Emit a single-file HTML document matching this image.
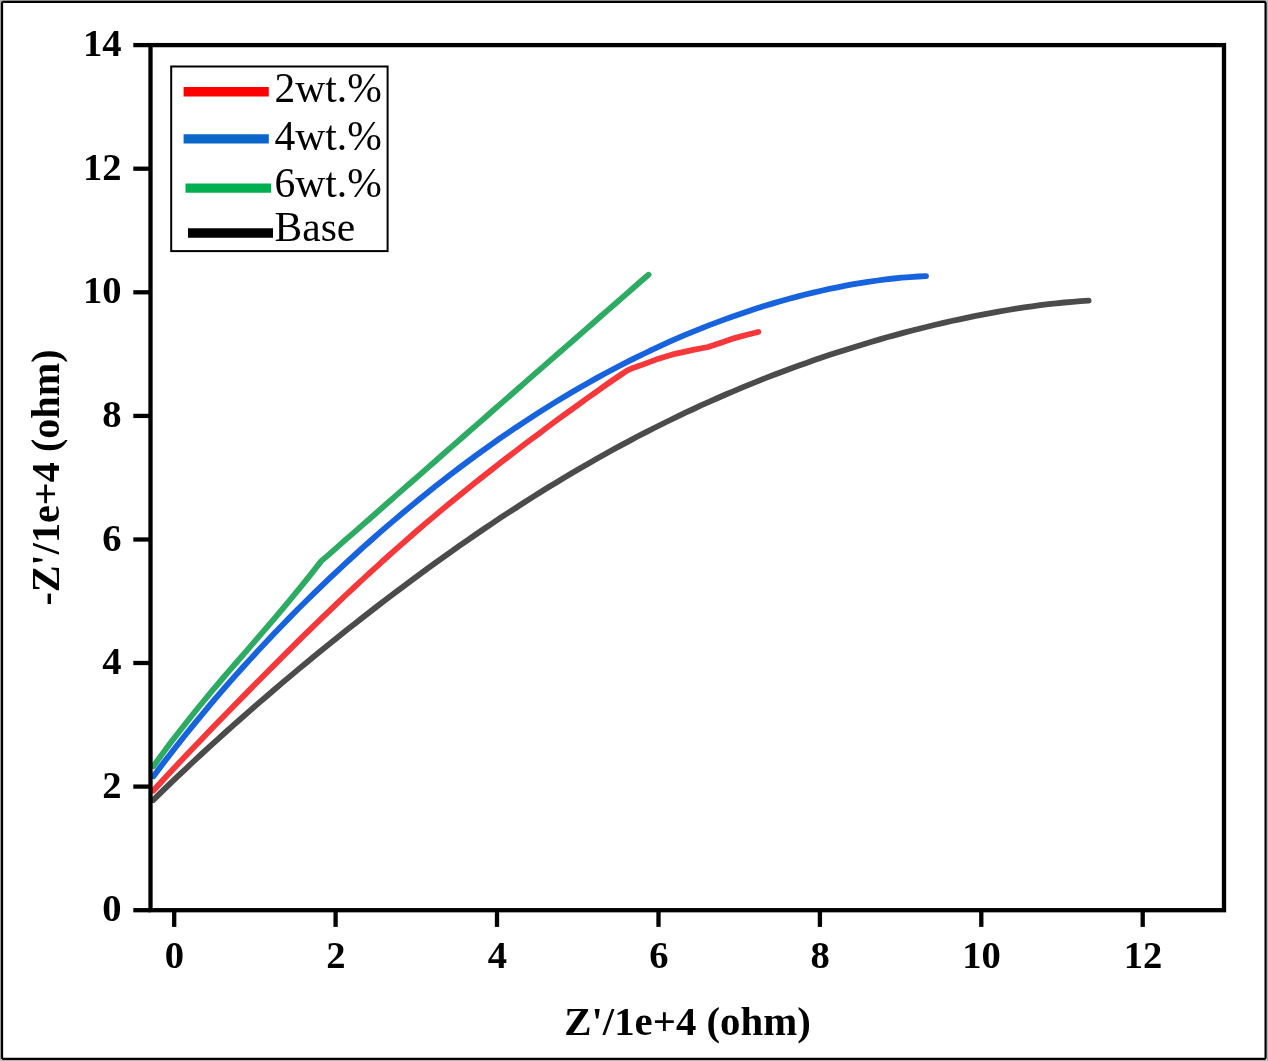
<!DOCTYPE html>
<html lang="en"><head><meta charset="utf-8"><title>Nyquist plot</title>
<style>html,body{margin:0;padding:0;background:#fff}svg{display:block}text{font-family:"Liberation Serif","Times New Roman",serif;fill:#000}.b{font-weight:bold}</style></head><body>
<svg width="1268" height="1061" viewBox="0 0 1268 1061">
<rect x="0" y="0" width="1268" height="1061" fill="#fff"/>
<rect x="0.5" y="0.5" width="1267" height="1060" fill="none" stroke="#b4b4b4" stroke-width="1"/>
<rect x="2.0" y="1.8" width="1263.6" height="1057.1" rx="1.2" fill="none" stroke="#000" stroke-width="2.25"/>
<path d="M153.2 800.1 L161.3 792.2 L169.3 784.4 L177.4 776.7 L185.5 769.1 L193.5 761.5 L201.6 754.0 L209.6 746.6 L217.7 739.3 L225.8 732.0 L233.8 724.8 L241.9 717.7 L250.0 710.6 L258.0 703.6 L266.1 696.7 L274.2 689.8 L282.2 682.9 L290.3 676.1 L298.3 669.4 L306.4 662.7 L314.5 656.1 L322.5 649.5 L330.6 643.0 L338.7 636.5 L346.7 630.1 L354.8 623.7 L362.9 617.4 L370.9 611.1 L379.0 604.9 L387.0 598.8 L395.1 592.6 L403.2 586.6 L411.2 580.6 L419.3 574.6 L427.4 568.7 L435.4 562.9 L443.5 557.1 L451.6 551.4 L459.6 545.7 L467.7 540.1 L475.8 534.5 L483.8 529.0 L491.9 523.6 L499.9 518.2 L508.0 512.9 L516.1 507.7 L524.1 502.5 L532.2 497.4 L540.3 492.3 L548.3 487.3 L556.4 482.4 L564.5 477.6 L572.5 472.8 L580.6 468.0 L588.6 463.4 L596.7 458.8 L604.8 454.3 L612.8 449.8 L620.9 445.4 L629.0 441.1 L637.0 436.8 L645.1 432.6 L653.2 428.5 L661.2 424.5 L669.3 420.5 L677.3 416.6 L685.4 412.7 L693.5 409.0 L701.5 405.2 L709.6 401.6 L717.7 398.0 L725.7 394.5 L733.8 391.1 L741.9 387.7 L749.9 384.4 L758.0 381.1 L766.0 377.9 L774.1 374.8 L782.2 371.7 L790.2 368.7 L798.3 365.8 L806.4 362.9 L814.4 360.1 L822.5 357.3 L830.6 354.6 L838.6 352.0 L846.7 349.4 L854.7 346.9 L862.8 344.4 L870.9 342.0 L878.9 339.6 L887.0 337.3 L895.1 335.1 L903.1 332.9 L911.2 330.8 L919.3 328.7 L927.3 326.7 L935.4 324.8 L943.5 322.9 L951.5 321.0 L959.6 319.3 L967.6 317.6 L975.7 315.9 L983.8 314.3 L991.8 312.8 L999.9 311.4 L1008.0 310.0 L1016.0 308.7 L1024.1 307.4 L1032.2 306.3 L1040.2 305.2 L1048.3 304.2 L1056.3 303.3 L1064.4 302.5 L1072.5 301.8 L1080.5 301.1 L1088.6 300.6" fill="none" stroke="#4b4b4b" stroke-width="5.8" stroke-linecap="round" stroke-linejoin="round"/>
<path d="M153.4 766.2 L161.8 754.6 L170.2 743.3 L178.6 732.4 L187.0 721.7 L195.3 711.2 L203.7 701.0 L212.1 690.9 L220.5 681.0 L228.9 671.2 L237.3 661.5 L245.7 651.8 L254.1 642.1 L262.5 632.4 L270.9 622.7 L279.2 612.8 L287.6 602.9 L296.0 592.7 L304.4 582.4 L312.8 571.9 L321.2 561.1 L329.4 554.1 L337.6 546.9 L345.7 539.7 L353.9 532.6 L362.1 525.4 L370.3 518.2 L378.5 511.0 L386.7 503.8 L394.8 496.6 L403.0 489.4 L411.2 482.3 L419.4 475.1 L427.6 467.9 L435.8 460.7 L443.9 453.5 L452.1 446.4 L460.3 439.2 L468.5 432.0 L476.7 424.9 L484.9 417.7 L493.0 410.5 L501.2 403.4 L509.4 396.2 L517.6 389.0 L525.8 381.9 L533.9 374.7 L542.1 367.6 L550.3 360.4 L558.5 353.3 L566.7 346.1 L574.9 339.0 L583.0 331.8 L591.2 324.7 L599.4 317.5 L607.6 310.4 L615.8 303.3 L624.0 296.1 L632.1 289.0 L640.3 281.8 L648.5 274.7" fill="none" stroke="#2dab63" stroke-width="5.8" stroke-linecap="round" stroke-linejoin="round"/>
<path d="M153.5 776.3 L161.5 765.5 L169.6 755.0 L177.6 744.7 L185.7 734.5 L193.7 724.6 L201.8 714.8 L209.8 705.2 L217.9 695.7 L225.9 686.4 L234.0 677.2 L242.0 668.2 L250.1 659.4 L258.1 650.6 L266.2 642.0 L274.2 633.5 L282.2 625.2 L290.3 616.9 L298.3 608.8 L306.4 600.8 L314.4 592.9 L322.5 585.1 L330.5 577.4 L338.6 569.8 L346.6 562.4 L354.7 555.0 L362.7 547.7 L370.8 540.5 L378.8 533.4 L386.9 526.4 L394.9 519.6 L403.0 512.8 L411.0 506.1 L419.0 499.5 L427.1 493.0 L435.1 486.6 L443.2 480.2 L451.2 474.0 L459.3 467.9 L467.3 461.9 L475.4 455.9 L483.4 450.1 L491.5 444.4 L499.5 438.7 L507.6 433.2 L515.6 427.7 L523.7 422.4 L531.7 417.1 L539.8 411.9 L547.8 406.9 L555.8 401.9 L563.9 397.0 L571.9 392.2 L580.0 387.5 L588.0 382.9 L596.1 378.4 L604.1 374.0 L612.2 369.7 L620.2 365.5 L628.3 361.4 L636.3 357.4 L644.4 353.5 L652.4 349.6 L660.5 345.9 L668.5 342.2 L676.5 338.7 L684.6 335.2 L692.6 331.9 L700.7 328.6 L708.7 325.4 L716.8 322.4 L724.8 319.4 L732.9 316.5 L740.9 313.7 L749.0 310.9 L757.0 308.3 L765.1 305.8 L773.1 303.4 L781.2 301.0 L789.2 298.8 L797.2 296.6 L805.3 294.5 L813.3 292.6 L821.4 290.7 L829.4 288.9 L837.5 287.3 L845.5 285.7 L853.6 284.2 L861.6 282.9 L869.7 281.6 L877.7 280.5 L885.8 279.4 L893.8 278.5 L901.9 277.7 L909.9 277.1 L918.0 276.5 L926.0 276.1" fill="none" stroke="#1763de" stroke-width="5.8" stroke-linecap="round" stroke-linejoin="round"/>
<path d="M153.2 790.7 L161.2 782.0 L169.3 773.3 L177.3 764.7 L185.3 756.2 L193.4 747.8 L201.4 739.4 L209.4 731.1 L217.4 722.8 L225.5 714.5 L233.5 706.3 L241.5 698.1 L249.6 689.9 L257.6 681.8 L265.6 673.7 L273.7 665.6 L281.7 657.6 L289.7 649.6 L297.7 641.6 L305.8 633.7 L313.8 625.9 L321.8 618.1 L329.9 610.3 L337.9 602.6 L345.9 595.0 L354.0 587.5 L362.0 580.0 L370.0 572.6 L378.1 565.3 L386.1 558.0 L394.1 550.9 L402.1 543.8 L410.2 536.7 L418.2 529.8 L426.2 522.9 L434.3 516.1 L442.3 509.4 L450.3 502.8 L458.4 496.2 L466.4 489.7 L474.4 483.3 L482.5 476.9 L490.5 470.6 L498.5 464.3 L506.5 458.1 L514.6 452.0 L522.6 445.8 L530.6 439.8 L538.7 433.8 L546.7 427.8 L554.7 421.8 L562.8 415.9 L570.8 410.1 L578.8 404.3 L586.8 398.5 L594.9 392.8 L602.9 387.1 L610.9 381.5 L619.0 376.0 L627.0 370.6 L633.0 367.9 L640.0 365.6 L656.0 359.6 L675.0 353.8 L692.0 350.2 L708.1 347.0 L721.0 342.8 L734.6 338.1 L746.0 335.0 L758.4 332.0" fill="none" stroke="#f6383a" stroke-width="5.8" stroke-linecap="round" stroke-linejoin="round"/>
<rect x="150.5" y="45.1" width="1073.5" height="865.1" fill="none" stroke="#000" stroke-width="4.3"/>
<line x1="133.3" y1="910.2" x2="150.5" y2="910.2" stroke="#000" stroke-width="4.3"/>
<text class="b" x="121.6" y="921.3" font-size="38.6" text-anchor="end">0</text>
<line x1="133.3" y1="786.6" x2="150.5" y2="786.6" stroke="#000" stroke-width="4.3"/>
<text class="b" x="121.6" y="797.7" font-size="38.6" text-anchor="end">2</text>
<line x1="133.3" y1="663.0" x2="150.5" y2="663.0" stroke="#000" stroke-width="4.3"/>
<text class="b" x="121.6" y="674.1" font-size="38.6" text-anchor="end">4</text>
<line x1="133.3" y1="539.5" x2="150.5" y2="539.5" stroke="#000" stroke-width="4.3"/>
<text class="b" x="121.6" y="550.6" font-size="38.6" text-anchor="end">6</text>
<line x1="133.3" y1="415.9" x2="150.5" y2="415.9" stroke="#000" stroke-width="4.3"/>
<text class="b" x="121.6" y="427.0" font-size="38.6" text-anchor="end">8</text>
<line x1="133.3" y1="292.3" x2="150.5" y2="292.3" stroke="#000" stroke-width="4.3"/>
<text class="b" x="121.6" y="303.4" font-size="38.6" text-anchor="end">10</text>
<line x1="133.3" y1="168.7" x2="150.5" y2="168.7" stroke="#000" stroke-width="4.3"/>
<text class="b" x="121.6" y="179.8" font-size="38.6" text-anchor="end">12</text>
<line x1="133.3" y1="45.1" x2="150.5" y2="45.1" stroke="#000" stroke-width="4.3"/>
<text class="b" x="121.6" y="56.2" font-size="38.6" text-anchor="end">14</text>
<line x1="174.2" y1="910.2" x2="174.2" y2="926.9" stroke="#000" stroke-width="4.3"/>
<text class="b" x="174.5" y="968.2" font-size="38.6" text-anchor="middle">0</text>
<line x1="335.6" y1="910.2" x2="335.6" y2="926.9" stroke="#000" stroke-width="4.3"/>
<text class="b" x="335.9" y="968.2" font-size="38.6" text-anchor="middle">2</text>
<line x1="497.0" y1="910.2" x2="497.0" y2="926.9" stroke="#000" stroke-width="4.3"/>
<text class="b" x="497.3" y="968.2" font-size="38.6" text-anchor="middle">4</text>
<line x1="658.5" y1="910.2" x2="658.5" y2="926.9" stroke="#000" stroke-width="4.3"/>
<text class="b" x="658.8" y="968.2" font-size="38.6" text-anchor="middle">6</text>
<line x1="819.9" y1="910.2" x2="819.9" y2="926.9" stroke="#000" stroke-width="4.3"/>
<text class="b" x="820.2" y="968.2" font-size="38.6" text-anchor="middle">8</text>
<line x1="981.3" y1="910.2" x2="981.3" y2="926.9" stroke="#000" stroke-width="4.3"/>
<text class="b" x="981.6" y="968.2" font-size="38.6" text-anchor="middle">10</text>
<line x1="1142.7" y1="910.2" x2="1142.7" y2="926.9" stroke="#000" stroke-width="4.3"/>
<text class="b" x="1143.0" y="968.2" font-size="38.6" text-anchor="middle">12</text>
<text class="b" x="687.5" y="1035" font-size="40.8" text-anchor="middle">Z'/1e+4 (ohm)</text>
<text class="b" transform="translate(58.6 477.5) rotate(-90)" font-size="40.2" text-anchor="middle">-Z'/1e+4 (ohm)</text>
<rect x="171.2" y="66.5" width="216.4" height="184.6" fill="#fff" stroke="#000" stroke-width="2"/>
<line x1="183.6" y1="91.7" x2="268.8" y2="91.7" stroke="#ff0000" stroke-width="9.4"/>
<text x="274.6" y="102.0" font-size="41.5">2wt.%</text>
<line x1="183.6" y1="138.9" x2="268.8" y2="138.9" stroke="#0a66c8" stroke-width="9.4"/>
<text x="274.6" y="149.7" font-size="41.5">4wt.%</text>
<line x1="185.5" y1="188.1" x2="271.1" y2="188.1" stroke="#00b050" stroke-width="9.4"/>
<text x="274.6" y="197.0" font-size="41.5">6wt.%</text>
<line x1="188.0" y1="233.0" x2="273.0" y2="233.0" stroke="#000000" stroke-width="9.4"/>
<text x="274.6" y="240.5" font-size="41.5">Base</text>
</svg></body></html>
